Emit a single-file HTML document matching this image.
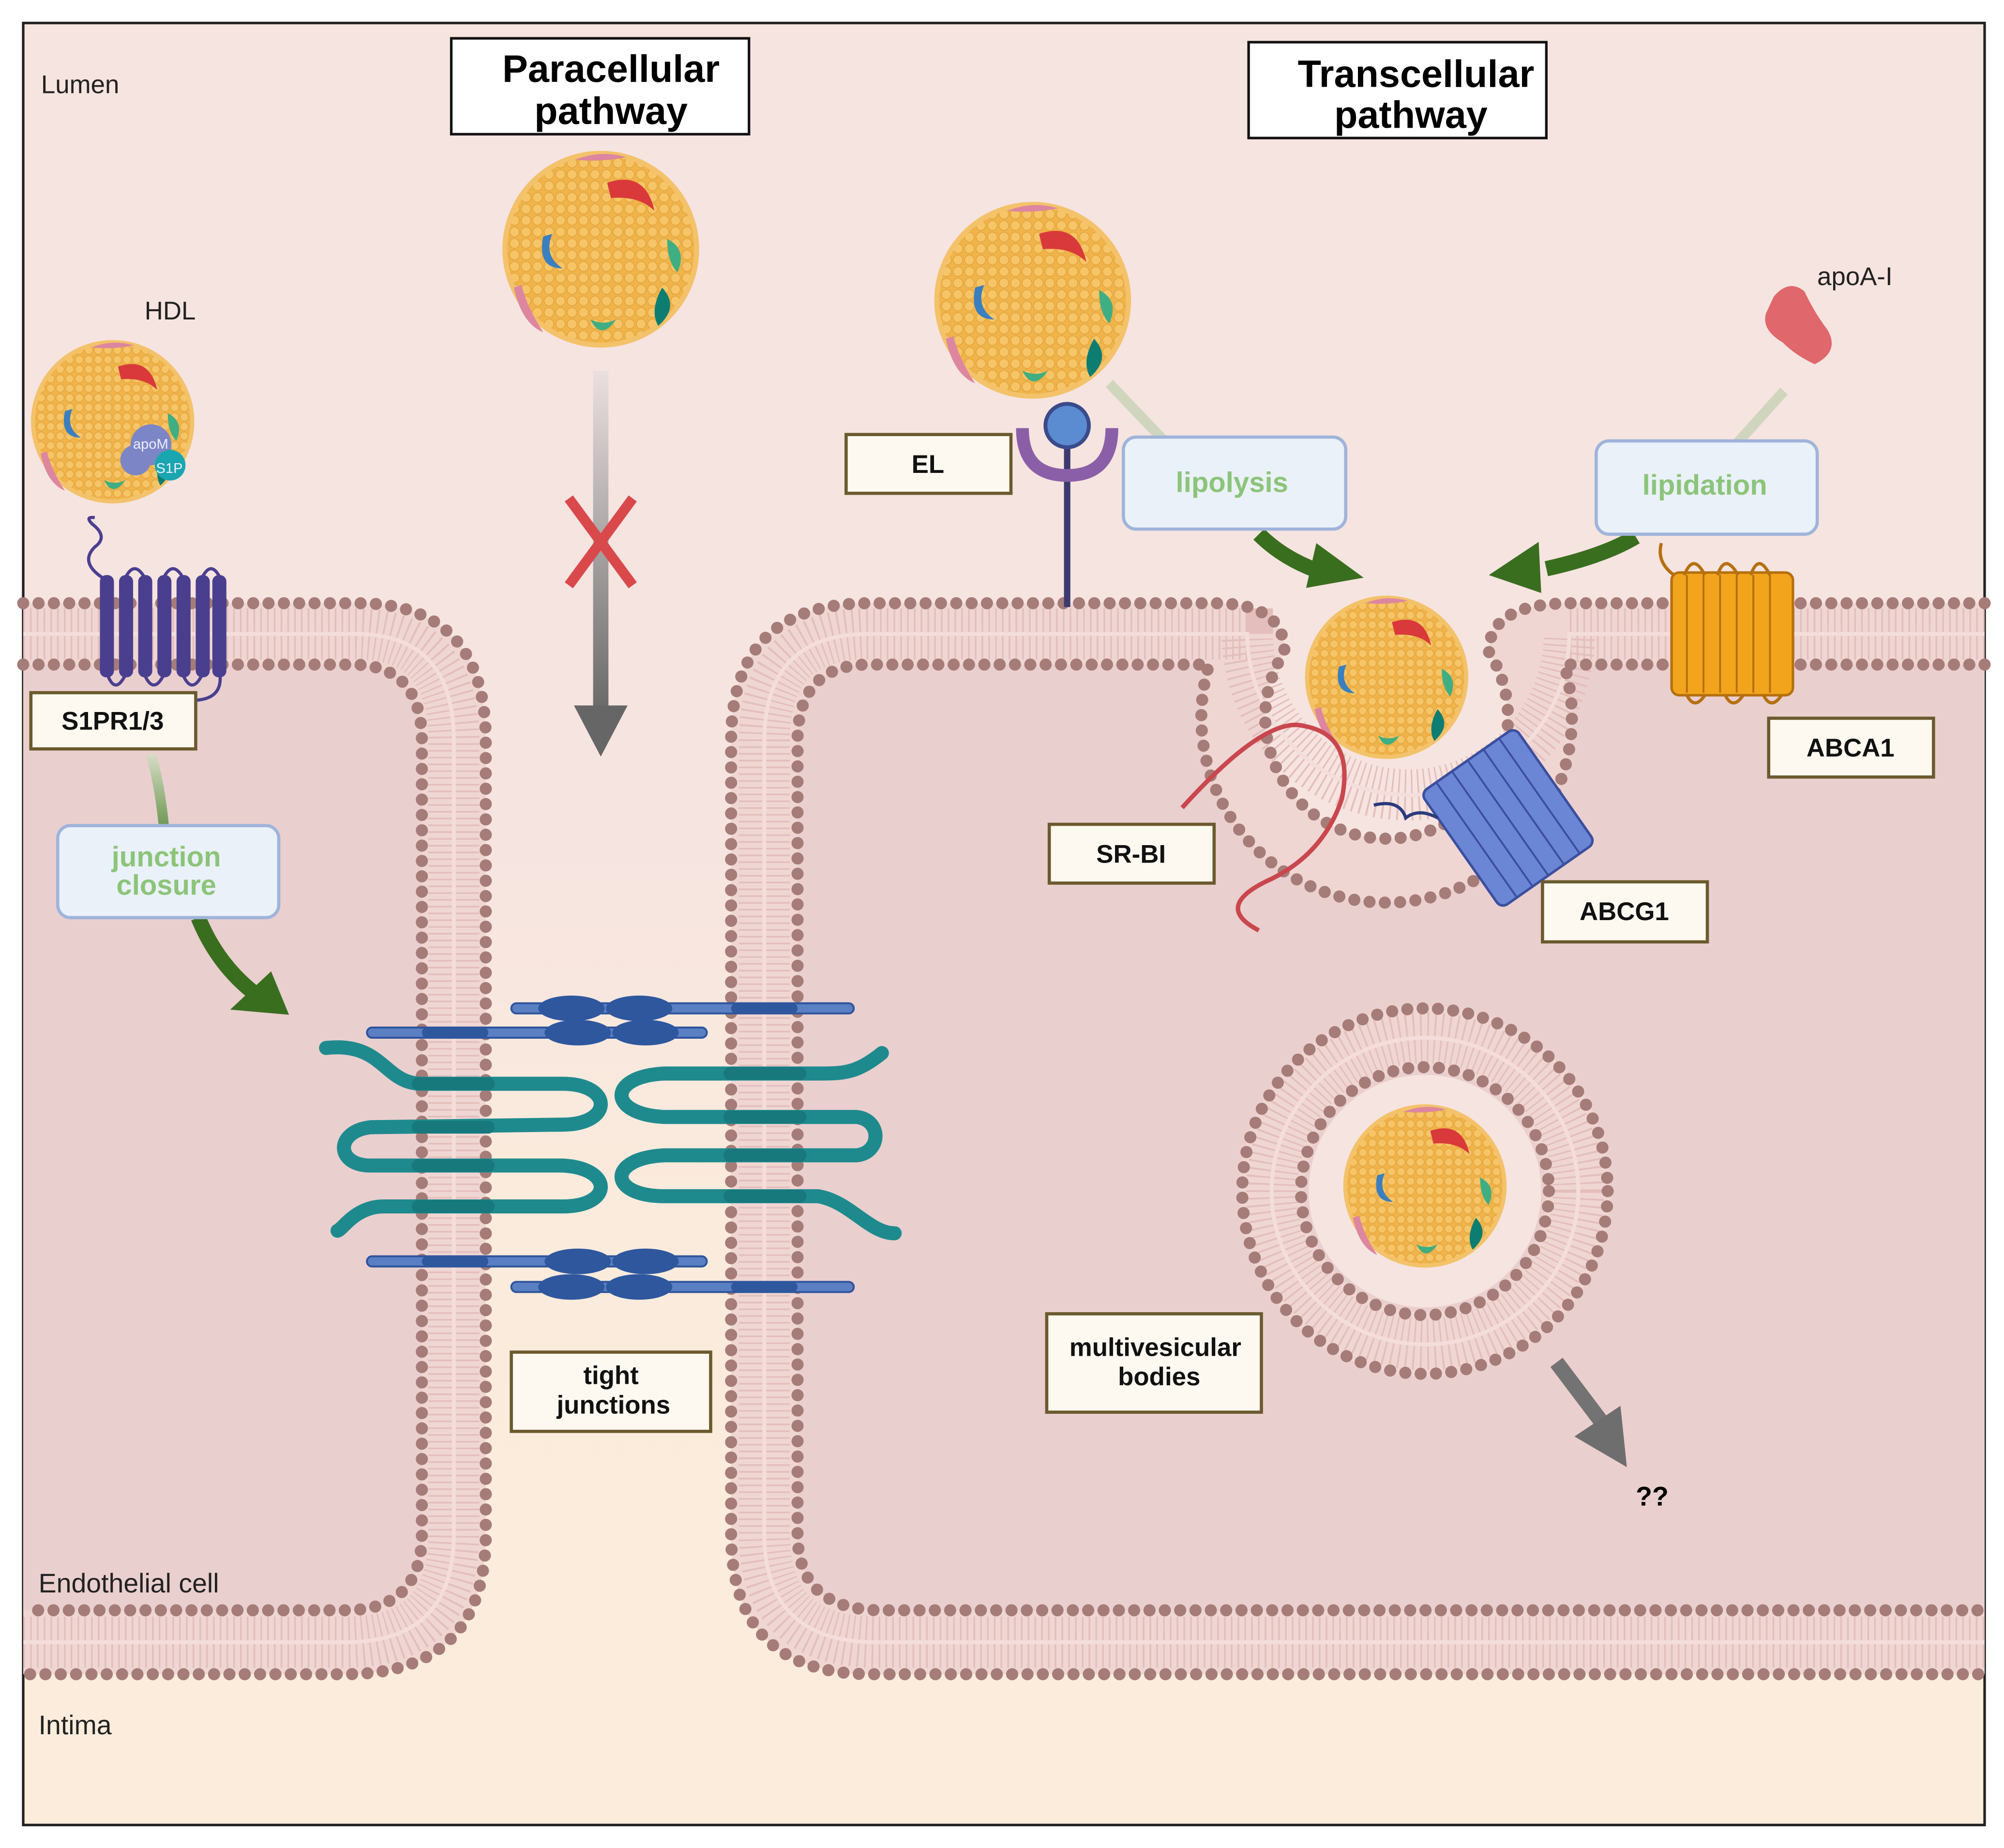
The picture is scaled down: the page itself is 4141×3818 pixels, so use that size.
<!DOCTYPE html>
<html><head><meta charset="utf-8"><style>html,body{margin:0;padding:0;background:#fff}svg{display:block}text{font-family:"Liberation Sans",sans-serif}</style></head>
<body>
<svg width="4141" height="3818" viewBox="0 0 1568 1446" xmlns="http://www.w3.org/2000/svg">
<defs>
<linearGradient id="bg" x1="0" y1="0" x2="0" y2="1">
<stop offset="0" stop-color="#f6e4e0"/><stop offset="0.45" stop-color="#f6e4e0"/><stop offset="0.65" stop-color="#fbebdc"/><stop offset="1" stop-color="#fbecdc"/></linearGradient>
<linearGradient id="gy" x1="0" y1="0" x2="0" y2="1"><stop offset="0" stop-color="#ebe0e0"/><stop offset="1" stop-color="#6a6a6a"/></linearGradient>
<linearGradient id="gl" x1="0" y1="0" x2="0" y2="1"><stop offset="0" stop-color="#d9dcc6"/><stop offset="1" stop-color="#6f9a55"/></linearGradient>
<pattern id="bub" width="9" height="9" patternUnits="userSpaceOnUse"><rect width="9" height="9" fill="#f0b44a"/><circle cx="4.5" cy="4.5" r="3.8" fill="#f6c567" stroke="#e3a23b" stroke-width="0.6"/></pattern>
<g id="hdlp">
<circle r="75" fill="url(#bub)" stroke="#f3c26a" stroke-width="4"/>
<path d="M5 -52 Q35 -62 42 -30 Q30 -42 8 -40 Z" fill="#d9393a"/>
<path d="M-45 -10 Q-50 15 -30 15 Q-45 5 -38 -12Z" fill="#3a7fbf"/>
<path d="M52 -8 Q68 0 60 18 Q52 10 52 -8Z" fill="#3fae82"/>
<path d="M48 30 Q62 45 45 60 Q38 48 48 30Z" fill="#0d7d72"/>
<path d="M-8 55 Q0 72 12 55 Q2 60 -8 55Z" fill="#3fae82"/>
<path d="M-20 -70 Q0 -78 20 -72 Q0 -68 -20 -70Z" fill="#dd86a0"/>
<path d="M-68 30 Q-62 58 -45 65 Q-58 45 -62 28Z" fill="#dd86a0"/>
</g>
</defs>
<rect width="1568" height="1446" fill="#fff"/>
<rect x="18" y="18" width="1535" height="1410" fill="url(#bg)" stroke="#222" stroke-width="2"/>

<g id="tails" fill="none" stroke="#e2b8b6" stroke-width="40" stroke-dasharray="1.3 4">
</g>

<!-- left cell -->
<path d="M18 472 L280 472 Q380 472 380 580 L380 1200 Q380 1310 270 1310 L18 1310 Z" fill="#efd6d3"/>
<path d="M18 520 L275 520 Q330 520 330 580 L330 1200 Q330 1260 270 1260 L18 1260 Z" fill="#eacfcf"/>
<path d="M18 496 L278 496 Q355 496 355 580 L355 1200 Q355 1285 270 1285 L18 1285" fill="none" stroke="#e4bebc" stroke-width="40" stroke-dasharray="1.3 4"/>
<path d="M18 496 L278 496 Q355 496 355 580 L355 1200 Q355 1285 270 1285 L18 1285" fill="none" stroke="#f3dedb" stroke-width="3"/>
<path d="M18 472 L280 472 Q380 472 380 580 L380 1200 Q380 1310 270 1310 L18 1310" fill="none" stroke="#a67c78" stroke-width="9.5" stroke-linecap="round" stroke-dasharray="0 12"/>
<path d="M18 520 L275 520 Q330 520 330 580 L330 1200 Q330 1260 270 1260 L18 1260" fill="none" stroke="#a67c78" stroke-width="9.5" stroke-linecap="round" stroke-dasharray="0 12"/>

<!-- right cell -->
<path d="M1553 472 L1230 472 Q1165 472 1165 510 A95 95 0 1 1 1005 510 Q1005 472 950 472 L680 472 Q572 472 572 580 L572 1200 Q572 1310 682 1310 L1553 1310 Z" fill="#efd6d3"/>
<path d="M1553 520 L1224 520 A145 145 0 1 1 946 520 L680 520 Q624 520 624 580 L624 1200 Q624 1260 690 1260 L1553 1260 Z" fill="#eacfcf"/>
<path d="M1553 496 L1228 496 A120 120 0 1 1 976 496 L680 496 Q598 496 598 580 L598 1200 Q598 1285 686 1285 L1553 1285" fill="none" stroke="#e4bebc" stroke-width="40" stroke-dasharray="1.3 4"/>
<path d="M1553 496 L1228 496 A120 120 0 1 1 976 496 L680 496 Q598 496 598 580 L598 1200 Q598 1285 686 1285 L1553 1285" fill="none" stroke="#f3dedb" stroke-width="3"/>
<path d="M1553 472 L1230 472 Q1165 472 1165 510 A95 95 0 1 1 1005 510 Q1005 472 950 472 L680 472 Q572 472 572 580 L572 1200 Q572 1310 682 1310 L1553 1310" fill="none" stroke="#a67c78" stroke-width="9.5" stroke-linecap="round" stroke-dasharray="0 12"/>
<path d="M1553 520 L1224 520 A145 145 0 1 1 946 520 L680 520 Q624 520 624 580 L624 1200 Q624 1260 690 1260 L1553 1260" fill="none" stroke="#a67c78" stroke-width="9.5" stroke-linecap="round" stroke-dasharray="0 12"/>

<!-- multivesicular body -->
<circle cx="1115" cy="932" r="120" fill="none" stroke="#efd6d3" stroke-width="50"/>
<circle cx="1115" cy="932" r="120" fill="none" stroke="#e4bebc" stroke-width="40" stroke-dasharray="1.3 4"/>
<circle cx="1115" cy="932" r="120" fill="none" stroke="#f3dedb" stroke-width="3"/>
<circle cx="1115" cy="932" r="143" fill="none" stroke="#a67c78" stroke-width="9.5" stroke-linecap="round" stroke-dasharray="0 12"/>
<circle cx="1115" cy="932" r="97" fill="none" stroke="#a67c78" stroke-width="9.5" stroke-linecap="round" stroke-dasharray="0 12"/>
<circle cx="1115" cy="932" r="91" fill="#f6e4e0"/>

<!-- HDL particles -->
<use href="#hdlp" transform="translate(88,330) scale(0.83)"/>
<use href="#hdlp" transform="translate(470,195)"/>
<use href="#hdlp" transform="translate(808,235)"/>
<use href="#hdlp" transform="translate(1085,530) scale(0.83)"/>
<use href="#hdlp" transform="translate(1115,928) scale(0.83)"/>
<circle cx="118" cy="348" r="16" fill="#7c86c6"/><circle cx="106" cy="360" r="12" fill="#7c86c6"/>
<circle cx="133" cy="364" r="12" fill="#1aa6b0"/>
<text x="104" y="351" font-size="11" fill="#eef">apoM</text>
<text x="122" y="370" font-size="11" fill="#eef">S1P</text>

<!-- texts -->
<text x="32" y="73" font-size="20" fill="#222">Lumen</text>
<text x="113" y="250" font-size="20" fill="#222">HDL</text>
<text x="1422" y="223" font-size="20" fill="#222">apoA-I</text>
<text x="30" y="1246" font-size="21" fill="#222">Endothelial cell</text>
<text x="30" y="1357" font-size="21" fill="#222">Intima</text>

<!-- title boxes -->
<rect x="353" y="30" width="233" height="75" fill="#fff" stroke="#111" stroke-width="2"/>
<text x="478" y="64" font-size="30" font-weight="bold" text-anchor="middle">Paracellular</text>
<text x="478" y="97" font-size="30" font-weight="bold" text-anchor="middle">pathway</text>
<rect x="977" y="33" width="233" height="75" fill="#fff" stroke="#111" stroke-width="2"/>
<text x="1108" y="68" font-size="30" font-weight="bold" text-anchor="middle">Transcellular</text>
<text x="1104" y="100" font-size="30" font-weight="bold" text-anchor="middle">pathway</text>

<!-- paracellular arrow -->
<rect x="464" y="290" width="12" height="265" fill="url(#gy)"/>
<polygon points="449,552 491,552 470,592" fill="#666"/>
<path d="M445 390 L495 458 M495 390 L445 458" stroke="#d9494c" stroke-width="8"/>

<!-- faded connectors -->
<path d="M118 590 Q125 615 128 646" stroke="url(#gl)" stroke-width="8" fill="none"/>
<path d="M868 300 L910 344" stroke="#cfd6bd" stroke-width="8"/>
<path d="M1396 306 L1360 346" stroke="#cfd6bd" stroke-width="8"/>

<!-- green arrows -->
<path d="M155 718 Q170 755 200 778" stroke="#3a6e1f" stroke-width="12" fill="none"/>
<polygon points="180,790 212,760 226,794" fill="#3a6e1f"/>
<path d="M985 418 Q1005 438 1035 448" stroke="#3a6e1f" stroke-width="12" fill="none"/>
<polygon points="1022,460 1030,425 1067,452" fill="#3a6e1f"/>
<path d="M1280 420 Q1255 435 1210 445" stroke="#3a6e1f" stroke-width="12" fill="none"/>
<polygon points="1165,450 1204,424 1206,464" fill="#3a6e1f"/>

<!-- bottom gray arrow -->
<path d="M1218 1066 L1255 1115" stroke="#737373" stroke-width="12"/>
<polygon points="1232,1124 1268,1100 1273,1148" fill="#6e6e6e"/>
<text x="1280" y="1178" font-size="21" font-weight="bold">??</text>

<!-- blue boxes -->
<g font-weight="bold" fill="#8cc47a" font-size="22" text-anchor="middle">
<rect x="45" y="646" width="173" height="72" rx="10" fill="#eaf1f8" stroke="#9fb4da" stroke-width="2.5"/>
<text x="130" y="678">junction</text><text x="130" y="700">closure</text>
<rect x="879" y="342" width="174" height="72" rx="10" fill="#eaf1f8" stroke="#9fb4da" stroke-width="2.5"/>
<text x="964" y="385">lipolysis</text>
<rect x="1249" y="345" width="173" height="73" rx="10" fill="#eaf1f8" stroke="#9fb4da" stroke-width="2.5"/>
<text x="1334" y="387">lipidation</text>
</g>

<!-- EL -->
<line x1="835" y1="335" x2="835" y2="475" stroke="#3c3a6e" stroke-width="5"/>
<path d="M800 335 Q800 372 835 372 Q870 372 870 335" fill="none" stroke="#8b5fa8" stroke-width="10"/>
<circle cx="835" cy="333" r="17" fill="#5b8bd0" stroke="#3a4a8a" stroke-width="3"/>

<!-- S1PR -->
<path d="M80 452 Q62 440 74 428 Q85 420 72 410 Q66 404 74 405" fill="none" stroke="#4a3f8f" stroke-width="2.5"/>
<g fill="#4a3f8f">
<rect x="78" y="450" width="11" height="80" rx="5"/><rect x="93" y="450" width="11" height="80" rx="5"/><rect x="108" y="450" width="11" height="80" rx="5"/><rect x="123" y="450" width="11" height="80" rx="5"/><rect x="138" y="450" width="11" height="80" rx="5"/><rect x="153" y="450" width="11" height="80" rx="5"/><rect x="166" y="450" width="11" height="80" rx="5"/>
</g>
<path d="M98 452 Q105 438 113 452 M128 452 Q135 438 143 452 M158 452 Q165 438 172 452 M84 528 Q90 544 98 528 M113 528 Q120 544 128 528 M143 528 Q150 544 158 528 M172 528 Q174 548 150 548" fill="none" stroke="#4a3f8f" stroke-width="2.5"/>

<!-- ABCA1 -->
<rect x="1308" y="448" width="95" height="96" rx="6" fill="#f2a51c" stroke="#b5700f" stroke-width="2"/>
<path d="M1320 450 V542 M1333 450 V542 M1346 450 V542 M1359 450 V542 M1372 450 V542 M1385 450 V542" stroke="#b5700f" stroke-width="1.5"/>
<path d="M1300 425 Q1296 440 1310 450 M1318 450 Q1325 432 1334 450 M1344 450 Q1350 432 1360 450 M1370 450 Q1376 432 1385 450 M1320 544 Q1326 556 1334 544 M1350 544 Q1356 556 1364 544 M1380 544 Q1386 556 1394 544" fill="none" stroke="#b5700f" stroke-width="2.5"/>

<!-- ABCG1 -->
<g transform="translate(1180,640) rotate(-35)">
<rect x="-45" y="-55" width="90" height="110" rx="6" fill="#6c86d6" stroke="#3c4f9e" stroke-width="2"/>
<path d="M-30 -55 V55 M-15 -55 V55 M0 -55 V55 M15 -55 V55 M30 -55 V55" stroke="#3c4f9e" stroke-width="1.5"/>
</g>
<path d="M1075 630 Q1095 625 1100 640 Q1110 632 1125 640" fill="none" stroke="#2a3a7e" stroke-width="2.5"/>

<!-- SR-BI -->
<path d="M925 632 Q990 560 1020 568 Q1060 575 1050 625 Q1035 670 990 690 Q950 710 985 728" fill="none" stroke="#c9474e" stroke-width="3.5"/>

<!-- tight junctions -->
<g stroke="#1f8a8e" stroke-width="11" fill="none" stroke-linecap="round">
<path d="M255 820 C300 815 300 848 330 848 L440 848 C480 848 480 880 440 880 L290 882 C262 885 262 912 290 912 L440 912 C480 914 480 944 440 944 L300 944 C278 944 268 962 264 963"/>
<path d="M690 824 C670 840 660 840 640 840 L520 840 C475 842 475 872 520 874 L670 874 C690 876 690 902 670 904 L520 904 C475 906 475 936 520 936 L640 936 C665 940 680 965 700 965"/>
</g>
<g fill="#17797c">
<rect x="322" y="843" width="65" height="10" rx="5"/><rect x="322" y="877" width="65" height="10" rx="5"/><rect x="322" y="907" width="65" height="10" rx="5"/><rect x="322" y="939" width="65" height="10" rx="5"/>
<rect x="566" y="835" width="65" height="10" rx="5"/><rect x="566" y="869" width="65" height="10" rx="5"/><rect x="566" y="899" width="65" height="10" rx="5"/><rect x="566" y="931" width="65" height="10" rx="5"/>
</g>
<g fill="#5a7fc2" stroke="#2e549c" stroke-width="1.5">
<rect x="400" y="785" width="268" height="8" rx="4"/><rect x="287" y="804" width="266" height="8" rx="4"/>
<rect x="287" y="983" width="266" height="8" rx="4"/><rect x="400" y="1003" width="268" height="8" rx="4"/>
</g>
<g fill="#2e579e">
<ellipse cx="447" cy="789" rx="26" ry="10"/><ellipse cx="500" cy="789" rx="26" ry="10"/><ellipse cx="452" cy="808" rx="26" ry="10"/><ellipse cx="505" cy="808" rx="26" ry="10"/>
<ellipse cx="452" cy="987" rx="26" ry="10"/><ellipse cx="505" cy="987" rx="26" ry="10"/><ellipse cx="447" cy="1007" rx="26" ry="10"/><ellipse cx="500" cy="1007" rx="26" ry="10"/>
<rect x="330" y="804" width="52" height="8" rx="4"/><rect x="330" y="983" width="52" height="8" rx="4"/>
<rect x="572" y="785" width="52" height="8" rx="4"/><rect x="572" y="1003" width="52" height="8" rx="4"/>
</g>

<!-- label boxes -->
<g fill="#fdf9f1" stroke="#6b5a2e" stroke-width="2.5">
<rect x="24" y="542" width="129" height="44"/>
<rect x="662" y="340" width="129" height="46"/>
<rect x="821" y="645" width="129" height="46"/>
<rect x="1384" y="562" width="129" height="46"/>
<rect x="1207" y="690" width="129" height="47"/>
<rect x="400" y="1058" width="156" height="62"/>
<rect x="819" y="1028" width="168" height="77"/>
</g>
<g font-size="20" font-weight="bold" text-anchor="middle" fill="#111">
<text x="88" y="571">S1PR1/3</text>
<text x="726" y="370">EL</text>
<text x="885" y="675">SR-BI</text>
<text x="1448" y="592">ABCA1</text>
<text x="1271" y="720">ABCG1</text>
<text x="478" y="1083">tight</text><text x="480" y="1106">junctions</text>
<text x="904" y="1061">multivesicular</text><text x="907" y="1084">bodies</text>
</g>

<!-- apoA-I -->
<path d="M1388 232 Q1400 218 1412 228 Q1420 245 1430 258 Q1440 275 1420 285 Q1405 278 1395 268 Q1378 258 1382 245 Z" fill="#e0676c"/>
</svg>
</body></html>
